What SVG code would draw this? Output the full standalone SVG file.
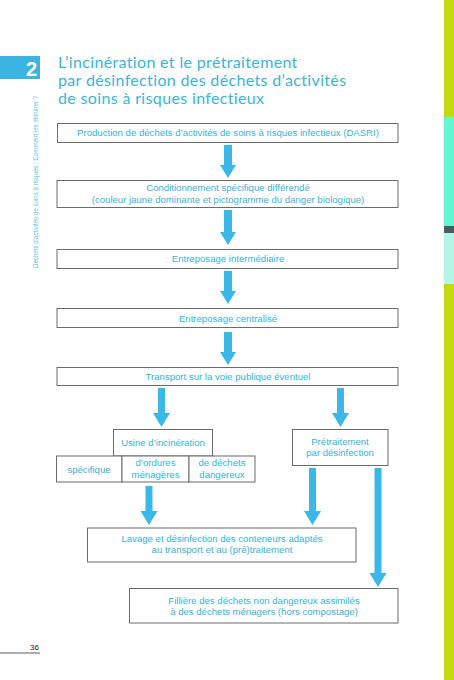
<svg xmlns="http://www.w3.org/2000/svg" width="454" height="680" viewBox="0 0 454 680">
<style>
.bg{fill:#ffffff}
.box{fill:#ffffff;stroke:#6b6b6b;stroke-width:1}
.t{font-family:"Liberation Sans",Arial,sans-serif;font-size:9.6px;fill:#36b3e3;text-anchor:middle}
.title{font-family:Lato,"Open Sans",sans-serif;font-size:16px;letter-spacing:0.35px;fill:#3ab4e1}
.arr{fill:#3ab8e8}
.side{font-family:"Liberation Sans",Arial,sans-serif;font-size:6.3px;fill:#5cc3ea}
</style>
<rect class="bg" x="0" y="0" width="454" height="680"/>
<g id="sidebar">
<rect x="444" y="0" width="10" height="117" fill="#c5d90f"/>
<rect x="444" y="117" width="10" height="109" fill="#62f7d2"/>
<rect x="444" y="226" width="10" height="7" fill="#4d5a5e"/>
<rect x="444" y="233" width="10" height="51" fill="#b3f6e6"/>
<rect x="444" y="284" width="10" height="396" fill="#c5d90f"/>
</g>
<g id="chapter">
<rect x="0" y="56" width="40" height="23" fill="#3ab4e1"/>
<text x="37" y="76" font-family="Liberation Sans,Arial,sans-serif" font-weight="bold" font-size="20" fill="#ffffff" text-anchor="end">2</text>
<text class="side" transform="translate(38,268) rotate(-90)" textLength="172" lengthAdjust="spacingAndGlyphs">Déchets d’activités de soins à risques : Comment les éliminer ?</text>
</g>
<g id="title">
<text class="title" x="58" y="68">L’incinération et le prétraitement</text>
<text class="title" x="58" y="86">par désinfection des déchets d’activités</text>
<text class="title" x="58" y="104">de soins à risques infectieux</text>
</g>
<g id="connectors">
<polygon class="arr" points="224,145 232,145 232,165 236,165 228,178 220,165 224,165"/>
<polygon class="arr" points="224,210 232,210 232,232 236,232 228,245 220,232 224,232"/>
<polygon class="arr" points="224,271 232,271 232,291 236,291 228,304 220,291 224,291"/>
<polygon class="arr" points="224,332 232,332 232,352 236,352 228,365 220,352 224,352"/>
<polygon class="arr" points="158,388 165,388 165,413 170,413 161.5,427 153,413 158,413"/>
<polygon class="arr" points="337,388 344,388 344,413 349,413 340.5,427 332,413 337,413"/>
<polygon class="arr" points="145.5,486 152.5,486 152.5,511 157.5,511 149,525 140.5,511 145.5,511"/>
<polygon class="arr" points="309,468 316,468 316,511 321,511 312.5,525 304,511 309,511"/>
<polygon class="arr" points="374.5,468 381.5,468 381.5,573 386.5,573 378,587 369.5,573 374.5,573"/>
</g>
<g id="n1">
<rect class="box" x="57.5" y="123.5" width="340.5" height="19"/>
<text class="t" x="228" y="136">Production de déchets d’activités de soins à risques infectieux (DASRI)</text>
</g>
<g id="n2">
<rect class="box" x="57" y="180.5" width="341" height="27"/>
<text class="t" x="228" y="190.5">Conditionnement spécifique différendé</text>
<text class="t" x="228" y="202.5">(couleur jaune dominante et pictogramme du danger biologique)</text>
</g>
<g id="n3">
<rect class="box" x="57" y="249.5" width="341" height="19"/>
<text class="t" x="228" y="262">Entreposage intermédiaire</text>
</g>
<g id="n4">
<rect class="box" x="57" y="308.5" width="341" height="19"/>
<text class="t" x="228" y="321.5">Entreposage centralisé</text>
</g>
<g id="n5">
<rect class="box" x="57" y="367.5" width="341" height="18"/>
<text class="t" x="228" y="379.5">Transport sur la voie publique éventuel</text>
</g>
<g id="n6">
<rect class="box" x="113.5" y="429.5" width="99" height="26.5"/>
<text class="t" x="163" y="446">Usine d’incinération</text>
</g>
<g id="n6a">
<rect class="box" x="56.5" y="456" width="65.5" height="26"/>
<text class="t" x="89" y="472.5">spécifique</text>
</g>
<g id="n6b">
<rect class="box" x="122" y="456" width="67" height="26"/>
<text class="t" x="155.5" y="465.5">d’ordures</text>
<text class="t" x="155.5" y="477.5">ménagères</text>
</g>
<g id="n6c">
<rect class="box" x="189" y="456" width="66" height="26"/>
<text class="t" x="222" y="465.5">de déchets</text>
<text class="t" x="222" y="477.5">dangereux</text>
</g>
<g id="n7">
<rect class="box" x="292.5" y="429.5" width="95.5" height="36"/>
<text class="t" x="340" y="445">Prétraitement</text>
<text class="t" x="340" y="456">par désinfection</text>
</g>
<g id="n8">
<rect class="box" x="87.5" y="528" width="268.5" height="34"/>
<text class="t" x="222" y="541.5">Lavage et désinfection des conteneurs adaptés</text>
<text class="t" x="222" y="553">au transport et au (pré)traitement</text>
</g>
<g id="n9">
<rect class="box" x="129.5" y="588.5" width="268.5" height="34.5"/>
<text class="t" x="264" y="603.5">Fillière des déchets non dangereux assimilés</text>
<text class="t" x="264" y="614.5">à des déchets ménagers (hors compostage)</text>
</g>
<g id="page">
<line x1="0" y1="653" x2="40" y2="653" stroke="#333333" stroke-width="0.8"/>
<text x="39" y="649.5" font-family="Liberation Sans,Arial,sans-serif" font-size="8" fill="#222222" text-anchor="end">36</text>
</g>
</svg>
